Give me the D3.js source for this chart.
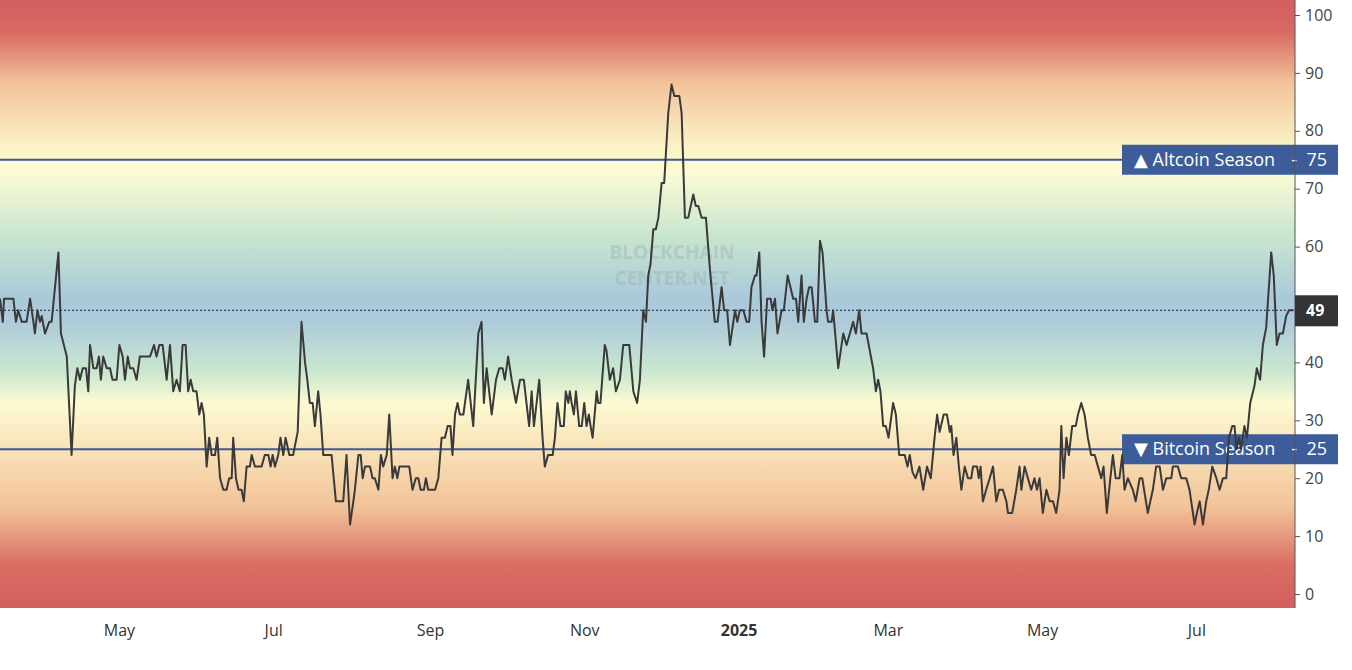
<!DOCTYPE html>
<html>
<head>
<meta charset="utf-8">
<script src="https://cdn.jsdelivr.net/npm/d3@7"></script>
<style>
  body { margin: 0; background: #fff; }
  text { font-family: "Open Sans", "DejaVu Sans", sans-serif; }
</style>
</head>
<body>
<svg id="chart" width="1352" height="670"></svg>
<script>
var WIDTH = 1352, HEIGHT = 670;
var PLOT_RIGHT = 1295, PLOT_BOTTOM = 608;

// day offsets counted from 15 Mar 2024, and the index value read for each
var DAYS = [0,1.1,1.6,5.3,6.3,7.2,8.6,10.5,11.9,13.2,13.8,14.8,15.8,16.5,17.8,19.5,20.4,23.1,24.1,26.4,28.3,29.6,30.6,31.6,32.7,34,34.9,35.6,36.9,38.2,39.1,39.9,40.8,42.2,43.5,44.5,46.1,47.2,48.5,49.4,50.5,51.4,52.7,54,55.3,59.3,60.9,61.9,63,64.3,65.9,67.2,68.5,69.8,71.1,72.2,73.4,74.4,75.4,76.4,77.7,78.8,79.7,80.6,81.7,82.7,83.7,85,85.9,87,88.3,89.6,90.6,91.6,92.2,93.3,94.3,95.5,96.4,97.5,98.8,99.5,100.8,103.4,104.7,106.1,107,107.8,108.7,110,110.9,112,112.9,114.4,115.9,117.7,119.2,120.6,121.5,122.5,123.6,124.5,125.8,126.7,127.8,
  131.1,132.8,135.7,137,138.4,139.7,140.3,141.7,142.6,143.4,144.3,146.3,147.3,148.2,149.6,150.6,151.5,152.9,153.9,155.2,156.1,157.1,157.9,159.2,161.8,163.1,164.4,165.4,166.3,167.6,168.4,169.3,172,173.3,174.6,175.9,177,178.1,178.9,179.9,180.9,181.8,183.2,185.1,187.1,189.1,190.4,191.3,192.4,194.4,196.1,197.4,198.7,199.6,200.9,202.3,204,205.6,207.1,209.2,210.2,211.1,213.2,214.5,215.4,216.7,218.5,219.4,220.4,221.6,222.9,223.7,224.7,225.3,226,226.9,227.7,229,230,231,231.9,232.8,233.5,234.3,235.9,236.5,237.4,239.1,239.8,241.1,242.4,243.5,
  245.1,246.4,248.8,250.4,251.9,253,254.3,255.4,256.3,257.2,258.3,259.3,260.3,261.6,262.6,264.2,265.5,266.6,268.6,269.5,270.8,272.1,274.1,275.1,276.1,277.4,279.1,280.7,282.6,283.7,285.3,286.3,287.5,288.6,290.6,291.5,292.5,293.9,295.2,296.2,297.1,298.5,299.1,300.2,301.1,302.1,303.3,304.7,305.4,306.4,307.4,309,309.9,311.4,313.6,314.7,315.6,316.9,317.8,318.9,319.9,320.9,322.2,323.1,324.2,325.2,326.8,327.4,328.8,329.4,331.4,333.4,334.7,336,337.3,338.4,339.7,340.6,342.6,345.2,346.3,347.2,348.1,349.2,350.2,351.3,353.1,354.2,355.5,357.7,358.8,359.7,360.8,
  362,363.5,365,366.5,368,369.5,370.5,
  371.5,373.1,374.4,375.5,376.1,377,378.1,379.1,380.1,381.4,382.7,384,384.7,386.3,387,387.7,388.6,389.9,391.3,392.6,393.9,395,396.5,397.9,398.5,400.2,401.8,403.1,403.8,405.1,406.4,407.7,409,410,411,412.3,413.7,415,416.3,417.6,418.9,419.6,420.5,421.6,422.6,423.9,425.3,426.2,427.5,428.8,430.1,431.4,432.8,434.1,435.4,436.3,437.6,439,440,441.1,442.6,443.7,444.6,445.9,447.9,449,450.6,451.6,453.8,455.8,457.1,458.5,459.8,461.1,463.1,463.7,465.7,467,469,470.3,472.3,473.2,474.3,475.6,476.9,477.9,479.3,480.9,482.2,483.5,484.8,485.9,487.2,488.1,488.8,489.8,490.7,492,493,494.3,496,496.9,498.2,499.3,500.6,502.6,503.6,504.8,505.9,507.2,508.5,509.6,510.5,511.2];

var VALUES = [51,47,51,51,47,49,47,47,51,47,45,49,47,48,45,47,47,59,45,41,24,36,39,37,39,39,35,43,39,39,41,37,41,39,39,37,37,43,41,37,41,39,39,37,41,41,43,41,43,43,37,43,35,37,35,43,43,35,37,35,35,31,33,31,22,27,24,24,27,20,18,18,20,20,27,20,18,18,16,22,22,24,22,22,24,24,22,24,22,24,27,24,27,24,24,28,47,40,37,33,33,29,35,31,24,
  24,16,16,24,12,16,18,24,24,20,22,22,20,20,18,24,22,24,31,20,22,20,22,22,22,18,20,20,18,18,20,18,18,20,27,27,29,29,24,31,33,31,31,37,29,45,47,33,39,31,37,39,39,37,41,37,33,37,37,29,35,29,37,27,22,24,24,27,33,29,29,35,33,35,33,31,35,29,29,33,29,31,29,27,35,33,33,43,42,37,39,35,
  37,43,43,35,33,37,49,47,55,57,63,63,65,71,71,83,88,86,86,83,65,65,69,67,67,65,65,56,47,47,53,49,49,43,49,47,49,49,47,47,53,55,55,59,47,41,51,51,49,51,45,49,49,55,51,51,47,55,47,51,53,53,47,47,61,59,49,47,47,49,39,45,43,45,47,45,49,45,45,39,35,37,35,29,29,27,33,31,24,24,22,24,21,
  20,22,18,22,20,27,31,
  28,31,31,28,29,24,27,22,18,22,20,20,22,22,20,22,16,18,20,22,16,18,18,16,14,14,18,22,18,22,20,18,20,18,20,14,18,16,16,14,18,29,20,27,24,29,29,31,33,31,27,24,24,22,20,22,14,20,24,20,20,24,18,20,18,16,20,20,14,18,22,22,18,20,20,22,22,20,20,18,12,14,16,12,16,18,22,20,18,20,20,27,29,29,25,27,25,29,27,33,36,39,37,43,46,59,55,43,45,45,48,49,49,49];

var Y_TICKS = [0,10,20,30,40,60,70,80,90,100];
var X_TICKS = ["2024-05-01","2024-07-01","2024-09-01","2024-11-01","2025-01-01","2025-03-01","2025-05-01","2025-07-01"];
var X_TICK_LABELS = ["May","Jul","Sep","Nov","2025","Mar","May","Jul"];
var LEVELS = [75, 25];
var LEVEL_NAMES = ["\u25B2 Altcoin Season", "\u25BC Bitcoin Season"];
var LAST_VALUE = 49;

var start = new Date(2024, 2, 15);
var toDate = function(d) { return new Date(start.getTime() + d * 864e5); };
var points = DAYS.map(function(d, i) { return { date: toDate(d), value: VALUES[i] }; });

var x = d3.scaleTime().domain([start, toDate(512)]).range([0, PLOT_RIGHT]);
var y = d3.scaleLinear().domain([0, 100]).range([594, 15]);

var svg = d3.select("#chart");

// background colour bands, stop positions given as index values
var bandStops = [[104,"#d35e5e"],[97,"#d86a64"],[88,"#f3c49b"],[78,"#fbf0c4"],[73,"#fdfbd4"],[62,"#c9e6cf"],[51,"#a9c9db"],[47,"#aecbdb"],[38,"#cce8cf"],[33,"#fdfad2"],[25,"#f9e2b8"],[15,"#f2c398"],[5,"#da6d63"],[-2.5,"#d35e5e"]];
var grad = svg.append("defs").append("linearGradient")
  .attr("id", "bands").attr("x1", 0).attr("x2", 0).attr("y1", 0).attr("y2", 1);
grad.selectAll("stop").data(bandStops).enter().append("stop")
  .attr("offset", function(d) { return y(d[0]) / PLOT_BOTTOM; })
  .attr("stop-color", function(d) { return d[1]; });

svg.append("rect").attr("x", 0).attr("y", 0)
  .attr("width", PLOT_RIGHT).attr("height", PLOT_BOTTOM)
  .attr("fill", "url(#bands)");

// watermark
svg.selectAll(".wm").data(["BLOCKCHAIN", "CENTER.NET"]).enter().append("text")
  .attr("x", 672).attr("y", function(d, i) { return 259 + i * 26; })
  .attr("text-anchor", "middle").attr("font-size", 19).attr("font-weight", "bold")
  .attr("fill", "#8fa3a0").attr("opacity", 0.3).text(function(d) { return d; });

// season lines
svg.selectAll(".level").data(LEVELS).enter().append("line")
  .attr("x1", 0).attr("x2", PLOT_RIGHT)
  .attr("y1", function(d) { return y(d); }).attr("y2", function(d) { return y(d); })
  .attr("stroke", "#3b5a98").attr("stroke-width", 2);

// current value dotted line
svg.append("line").attr("x1", 0).attr("x2", PLOT_RIGHT)
  .attr("y1", y(LAST_VALUE)).attr("y2", y(LAST_VALUE))
  .attr("stroke", "#222").attr("stroke-width", 1).attr("stroke-dasharray", "2,2");

// season labels
var lab = svg.selectAll(".lab").data(LEVELS).enter().append("g")
  .attr("transform", function(d) { return "translate(1122," + (y(d) - 15) + ")"; });
lab.append("rect").attr("width", 216).attr("height", 30).attr("fill", "#3d5c9a");
lab.append("text").attr("x", 12).attr("y", 21).attr("fill", "#fff").attr("font-size", 18)
  .text(function(d, i) { return LEVEL_NAMES[i]; });
lab.append("text").attr("x", 205).attr("y", 21).attr("fill", "#fff").attr("font-size", 18)
  .attr("text-anchor", "end").attr("xml:space", "preserve")
  .text(function(d) { return "-  " + d; });

// index line
svg.append("path").datum(points)
  .attr("d", d3.line().x(function(d) { return x(d.date); }).y(function(d) { return y(d.value); }))
  .attr("fill", "none").attr("stroke", "#3a3a3a").attr("stroke-width", 2)
  .attr("stroke-linejoin", "round");

// right axis
var yAxis = svg.append("g").attr("transform", "translate(" + PLOT_RIGHT + ",0)")
  .call(d3.axisRight(y).tickValues(Y_TICKS).tickSize(5).tickPadding(5));
yAxis.select(".domain").attr("stroke", "#555").attr("d", "M0,0V" + PLOT_BOTTOM);
yAxis.selectAll(".tick line").attr("stroke", "#555");
yAxis.selectAll(".tick text").attr("font-size", 16).attr("fill", "#444")
  .attr("font-family", "'Open Sans', sans-serif");

// last value box
svg.append("rect").attr("x", PLOT_RIGHT).attr("y", y(LAST_VALUE) - 15)
  .attr("width", 43).attr("height", 31).attr("fill", "#333");
svg.append("text").attr("x", 1306).attr("y", y(LAST_VALUE) + 6)
  .attr("fill", "#fff").attr("font-size", 16).attr("font-weight", "bold").text(LAST_VALUE);

// bottom axis
var xAxis = svg.append("g").attr("transform", "translate(0," + PLOT_BOTTOM + ")")
  .call(d3.axisBottom(x).tickValues(X_TICKS.map(function(s) { return new Date(s + "T00:00:00"); }))
    .tickSize(0).tickPadding(17)
    .tickFormat(function(d, i) { return X_TICK_LABELS[i]; }));
xAxis.select(".domain").remove();
xAxis.selectAll(".tick text").attr("font-size", 16).attr("fill", "#333")
  .attr("font-family", "'Open Sans', sans-serif")
  .attr("font-weight", function(d, i) { return X_TICK_LABELS[i] === "2025" ? "bold" : "normal"; });
</script>
</body>
</html>
